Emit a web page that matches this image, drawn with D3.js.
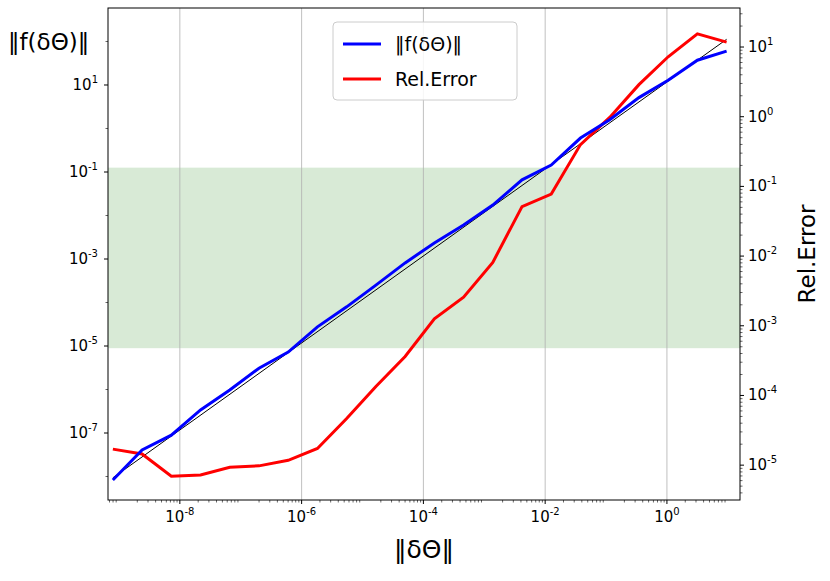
<!DOCTYPE html>
<html><head><meta charset="utf-8">
<script src="https://cdn.jsdelivr.net/npm/d3@7"></script>
<style>body{margin:0;background:#fff}text{font-family:"DejaVu Sans",sans-serif}</style>
</head><body><svg id="c" width="830" height="581"></svg>
<script>
// x exponents (log10 of ||dTheta||)
const xExp = [-9.1,-8.62,-8.14,-7.66,-7.18,-6.7,-6.22,-5.74,-5.26,-4.78,-4.3,-3.82,-3.34,-2.86,-2.38,-1.9,-1.42,-0.94,-0.46,0.02,0.5,0.98];
const fExp = [-8.08,-7.39,-7.05,-6.47,-6.01,-5.51,-5.14,-4.56,-4.1,-3.6,-3.09,-2.63,-2.22,-1.76,-1.18,-0.84,-0.22,0.2,0.71,1.11,1.57,1.78];
const errExp = [-4.77,-4.84,-5.16,-5.14,-5.03,-5.01,-4.93,-4.76,-4.33,-3.87,-3.44,-2.9,-2.59,-2.09,-1.29,-1.11,-0.4,-0.01,0.46,0.86,1.19,1.07];
const refLine = [[Math.pow(10,-9.1), Math.pow(10,-8.03)], [Math.pow(10,0.98), Math.pow(10,2.05)]];
const band = [Math.pow(10,-5.05), Math.pow(10,-0.9)];
const xTicks = [1e-8,1e-6,1e-4,1e-2,1];
const yTicks = [1e-7,1e-5,1e-3,1e-1,10];
const y2Ticks = [1e-5,1e-4,1e-3,1e-2,1e-1,1,10];

const L=108,R=740,T=8,B=500;
const svg=d3.select("#c");
const x=d3.scaleLog().domain([Math.pow(10,-9.18),Math.pow(10,1.2)]).range([L,R]);
const y=d3.scaleLog().domain([Math.pow(10,-8.54),Math.pow(10,2.77)]).range([B,T]);
const y2=d3.scaleLog().domain([Math.pow(10,-5.5),Math.pow(10,1.56)]).range([B,T]);

const sup=(sel,e)=>{sel.text("10");sel.append("tspan").attr("dy",-7).attr("font-size",10).text(e);};

svg.append("rect").attr("x",L).attr("width",R-L).attr("y",y(band[1])).attr("height",y(band[0])-y(band[1])).attr("fill","#d8ead6");
svg.selectAll(".g").data(xTicks).enter().append("line").attr("x1",d=>x(d)).attr("x2",d=>x(d)).attr("y1",T).attr("y2",B).attr("stroke","#b0b0b0").attr("stroke-width",0.8);

function minors(sc,lo,hi){const a=[];for(let e=lo;e<=hi;e++)for(let m=2;m<10;m++){const v=m*Math.pow(10,e);const d=sc.domain();if(v>d[0]&&v<d[1])a.push(v);}return a;}
// minor ticks
svg.selectAll(".mx").data(minors(x,-10,1)).enter().append("line").attr("x1",d=>x(d)).attr("x2",d=>x(d)).attr("y1",B).attr("y2",B+2.5).attr("stroke","#000").attr("stroke-width",0.6);
const yMinor=[];for(let e=-9;e<=2;e++){const v=Math.pow(10,e);if(v>y.domain()[0]&&v<y.domain()[1]&&!yTicks.includes(v))yMinor.push(v);}
svg.selectAll(".my").data(yMinor).enter().append("line").attr("x1",L-2.5).attr("x2",L).attr("y1",d=>y(d)).attr("y2",d=>y(d)).attr("stroke","#000").attr("stroke-width",0.6);
svg.selectAll(".my2").data(minors(y2,-6,1)).enter().append("line").attr("x1",R).attr("x2",R+2.5).attr("y1",d=>y2(d)).attr("y2",d=>y2(d)).attr("stroke","#000").attr("stroke-width",0.6);

// major ticks
const xt=svg.selectAll(".xt").data(xTicks).enter().append("g");
xt.append("line").attr("x1",d=>x(d)).attr("x2",d=>x(d)).attr("y1",B).attr("y2",B+4).attr("stroke","#000");
xt.append("text").attr("x",d=>x(d)).attr("y",B+22).attr("text-anchor","middle").attr("font-size",15).each(function(d){sup(d3.select(this),Math.round(Math.log10(d)));});
const yt=svg.selectAll(".yt").data(yTicks).enter().append("g");
yt.append("line").attr("x1",L-4).attr("x2",L).attr("y1",d=>y(d)).attr("y2",d=>y(d)).attr("stroke","#000");
yt.append("text").attr("x",L-10).attr("y",d=>y(d)+5).attr("text-anchor","end").attr("font-size",15).each(function(d){sup(d3.select(this),Math.round(Math.log10(d)));});
const yt2=svg.selectAll(".yt2").data(y2Ticks).enter().append("g");
yt2.append("line").attr("x1",R).attr("x2",R+4).attr("y1",d=>y2(d)).attr("y2",d=>y2(d)).attr("stroke","#000");
yt2.append("text").attr("x",R+8).attr("y",d=>y2(d)+5).attr("font-size",15).each(function(d){sup(d3.select(this),Math.round(Math.log10(d)));});

const clip=svg.append("clipPath").attr("id","cl").append("rect").attr("x",L).attr("y",T).attr("width",R-L).attr("height",B-T);
const pl=svg.append("g").attr("clip-path","url(#cl)");
pl.append("path").attr("d",d3.line().x(d=>x(d[0])).y(d=>y(d[1]))(refLine)).attr("stroke","#000").attr("stroke-width",1).attr("fill","none");
const fPts=xExp.map((e,i)=>[Math.pow(10,e),Math.pow(10,fExp[i])]);
const ePts=xExp.map((e,i)=>[Math.pow(10,e),Math.pow(10,errExp[i])]);
pl.append("path").attr("d",d3.line().x(d=>x(d[0])).y(d=>y2(d[1]))(ePts)).attr("stroke","#ff0000").attr("stroke-width",3).attr("fill","none");
pl.append("path").attr("d",d3.line().x(d=>x(d[0])).y(d=>y(d[1]))(fPts)).attr("stroke","#0000ff").attr("stroke-width",3).attr("fill","none");

svg.append("rect").attr("x",L).attr("y",T).attr("width",R-L).attr("height",B-T).attr("fill","none").attr("stroke","#000");

// legend
const lg=svg.append("g").attr("transform","translate(333,22)");
lg.append("rect").attr("width",184).attr("height",78).attr("rx",4).attr("fill","#fff").attr("fill-opacity",0.85).attr("stroke","#ccc");
lg.append("line").attr("x1",10).attr("x2",48).attr("y1",22).attr("y2",22).attr("stroke","#0000ff").attr("stroke-width",3);
lg.append("text").attr("x",62).attr("y",29).attr("font-size",19).text("‖f(δΘ)‖");
lg.append("line").attr("x1",10).attr("x2",48).attr("y1",57).attr("y2",57).attr("stroke","#ff0000").attr("stroke-width",3);
lg.append("text").attr("x",62).attr("y",64).attr("font-size",19).text("Rel.Error");

svg.append("text").attr("x",8).attr("y",50).attr("font-size",23).text("‖f(δΘ)‖");
svg.append("text").attr("x",(L+R)/2).attr("y",558).attr("text-anchor","middle").attr("font-size",25).text("‖δΘ‖");
svg.append("text").attr("transform","translate(815,254) rotate(-90)").attr("text-anchor","middle").attr("font-size",23).text("Rel.Error");
</script></body></html>
